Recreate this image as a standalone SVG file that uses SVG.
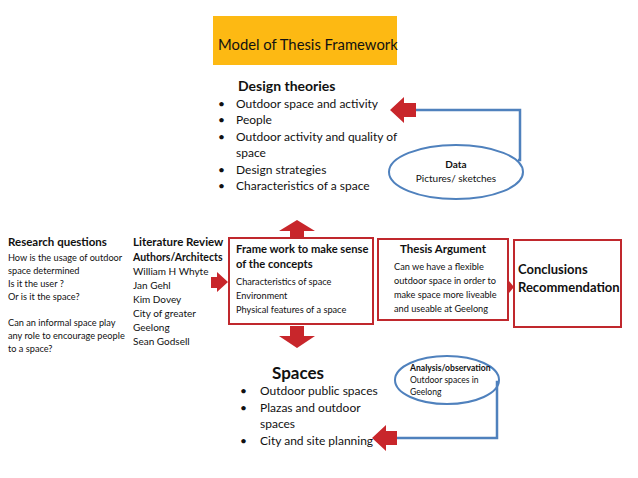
<svg xmlns="http://www.w3.org/2000/svg" width="638" height="478" viewBox="0 0 638 478">
<style>
text{font-family:Lato,"Open Sans","Liberation Sans",sans-serif;fill:#111}
.b{font-weight:bold}
.s{font-size:10px}
.r{font-size:9.2px}
.m{font-size:12px}
.box{fill:#fff;stroke:#C0282D;stroke-width:2}
.ell{fill:#fff;stroke:#4F81BD;stroke-width:2}
.ln{fill:none;stroke:#4F81BD;stroke-width:2.5}
.ar{fill:#C8262B}
</style>
<rect width="638" height="478" fill="#fff"/>
<g id="title"><rect x="213" y="16" width="184" height="49" fill="#FDB913"/><text x="218" y="50" font-size="14.8">Model of Thesis Framework</text></g>
<g id="design">
<text x="238" y="91" class="b" font-size="14">Design theories</text>
<g class="m"><text x="218" y="108">•</text><text x="236" y="108">Outdoor space and activity</text>
<text x="218" y="124">•</text><text x="236" y="124">People</text>
<text x="218" y="141">•</text><text x="236" y="141">Outdoor activity and quality of</text>
<text x="236" y="157">space</text>
<text x="218" y="174">•</text><text x="236" y="174">Design strategies</text>
<text x="218" y="190">•</text><text x="236" y="190">Characteristics of a space</text></g>
</g>
<g id="data"><ellipse cx="456" cy="172" rx="67" ry="27" class="ell"/><text x="456" y="168" class="s b" text-anchor="middle">Data</text><text x="456" y="182" class="s" text-anchor="middle">Pictures/ sketches</text></g>
<g id="research" class="r">
<text x="8" y="246" class="b" font-size="11.5">Research questions</text>
<text x="8" y="261">How is the usage of outdoor</text><text x="8" y="274">space determined</text><text x="8" y="287">Is it the user ?</text><text x="8" y="300">Or is it the space?</text>
<text x="8" y="326">Can an informal space play</text><text x="8" y="339">any role to encourage people</text><text x="8" y="352">to a space?</text>
</g>
<g id="literature" class="s">
<text x="133" y="246" class="b" font-size="11.5">Literature Review</text>
<text x="133" y="261" class="b" font-size="10.5">Authors/Architects</text>
<text x="133" y="275">William H Whyte</text><text x="133" y="289">Jan Gehl</text><text x="133" y="303">Kim Dovey</text><text x="133" y="317">City of greater</text><text x="133" y="331">Geelong</text><text x="133" y="345">Sean Godsell</text>
</g>
<g id="frame"><rect x="229" y="238" width="144" height="86" class="box"/>
<text x="236" y="253" class="b" font-size="11.2">Frame work to make sense</text><text x="236" y="268" class="b" font-size="11.2">of the concepts</text>
<text x="236" y="285" class="r">Characteristics of space</text><text x="236" y="299" class="r">Environment</text><text x="236" y="313" class="r">Physical features of a space</text></g>
<g id="thesis"><rect x="378" y="239" width="130" height="81" class="box"/>
<text x="443" y="253" class="b" font-size="11.5" text-anchor="middle">Thesis Argument</text>
<g class="r"><text x="394" y="270">Can we have a flexible</text><text x="394" y="284">outdoor space in order to</text><text x="394" y="298">make space more liveable</text><text x="394" y="312">and useable at Geelong</text></g></g>
<g id="conclusions"><rect x="514" y="240" width="107" height="87" class="box"/>
<text x="518" y="274" class="b" font-size="13">Conclusions</text><text x="518" y="292" class="b" font-size="13">Recommendation</text></g>
<g id="spaces"><text x="272" y="379" class="b" font-size="17">Spaces</text>
<g class="m"><text x="240" y="395">•</text><text x="260" y="395">Outdoor public spaces</text>
<text x="240" y="412">•</text><text x="260" y="412">Plazas and outdoor</text><text x="260" y="428">spaces</text>
<text x="240" y="445">•</text><text x="260" y="445">City and site planning</text></g></g>
<g id="analysis"><ellipse cx="447" cy="380" rx="52" ry="24" class="ell"/>
<text x="410" y="371" font-size="8.6" class="b">Analysis/observation</text><text x="410" y="383" font-size="8.6">Outdoor spaces in</text><text x="410" y="395" font-size="8.6">Geelong</text></g>
<g id="connectors">
<path d="M518 160 H520 V110 H413" class="ln"/>
<polygon points="390,110 404,97 404,103 416,103 416,117 404,117 404,123" class="ar"/>
<path d="M499 382 H497 V438 H390" class="ln"/>
<polygon points="372,438 386,425 386,431 397,431 397,445 386,445 386,451" class="ar"/>
<polygon points="297,220 315,231 304,231 304,237 290,237 290,231 279,231" class="ar"/>
<polygon points="297,348 315,336 304,336 304,326 290,326 290,336 279,336" class="ar"/>
<polygon points="228,282 217,272 217,277 211,277 211,288 217,288 217,292" class="ar"/>
<polygon points="514,287 509,281 509,293" class="ar"/>
</g>
</svg>
